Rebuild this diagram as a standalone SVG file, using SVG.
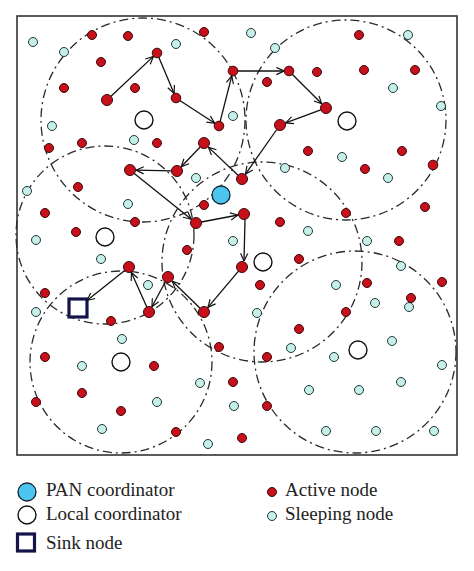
<svg xmlns="http://www.w3.org/2000/svg" width="474" height="571" viewBox="0 0 474 571">
<style>
.frame{fill:#fff;stroke:#333;stroke-width:1.6}
.rng{fill:none;stroke:#2a2a2a;stroke-width:1.3;stroke-dasharray:9 4 2 4}
.act{fill:#c8101c;stroke:#3a0a0a;stroke-width:1}
.slp{fill:#c6efe9;stroke:#1f3a38;stroke-width:1}
.lc{fill:#fff;stroke:#111;stroke-width:1.4}
.pan{fill:#4cc6ef;stroke:#123;stroke-width:1.3}
.sink{fill:#fff;stroke:#14144a;stroke-width:3.2}
.lnk line{stroke:#111;stroke-width:1.3;marker-end:url(#ah)}
.lg{font-family:"Liberation Serif","Times New Roman",serif;font-size:19px;fill:#222}
</style>
<defs>
<marker id="ah" viewBox="0 0 10 10" markerUnits="userSpaceOnUse" markerWidth="9" markerHeight="9" refX="9.5" refY="5" orient="auto">
<path d="M1,1 L9.5,5 L1,9" fill="none" stroke="#111" stroke-width="1.3"/>
</marker>
</defs>
<rect class="frame" x="17" y="16" width="440" height="439"/>
<g id="ranges">
<circle class="rng" cx="143" cy="120" r="102"/>
<circle class="rng" cx="346" cy="120" r="100"/>
<circle class="rng" cx="105" cy="235" r="89"/>
<circle class="rng" cx="262" cy="262" r="100"/>
<circle class="rng" cx="121" cy="362" r="91"/>
<circle class="rng" cx="355" cy="352" r="101"/>
</g>
<g id="sleeping">
<g id="s1"><circle class="slp" cx="33" cy="42" r="4.5"/></g>
<g id="s2"><circle class="slp" cx="64" cy="52" r="4.5"/></g>
<g id="s3"><circle class="slp" cx="176" cy="44" r="4.5"/></g>
<g id="s4"><circle class="slp" cx="251" cy="33" r="4.5"/></g>
<g id="s5"><circle class="slp" cx="275" cy="48" r="4.5"/></g>
<g id="s6"><circle class="slp" cx="408" cy="35" r="4.5"/></g>
<g id="s7"><circle class="slp" cx="393" cy="88" r="4.5"/></g>
<g id="s8"><circle class="slp" cx="441" cy="106" r="4.5"/></g>
<g id="s9"><circle class="slp" cx="233" cy="116" r="4.5"/></g>
<g id="s10"><circle class="slp" cx="52" cy="126" r="4.5"/></g>
<g id="s11"><circle class="slp" cx="134" cy="140" r="4.5"/></g>
<g id="s12"><circle class="slp" cx="342" cy="157" r="4.5"/></g>
<g id="s13"><circle class="slp" cx="388" cy="178" r="4.5"/></g>
<g id="s14"><circle class="slp" cx="285" cy="168" r="4.5"/></g>
<g id="s15"><circle class="slp" cx="196" cy="178" r="4.5"/></g>
<g id="s16"><circle class="slp" cx="27" cy="191" r="4.5"/></g>
<g id="s17"><circle class="slp" cx="128" cy="204" r="4.5"/></g>
<g id="s18"><circle class="slp" cx="36" cy="240" r="4.5"/></g>
<g id="s19"><circle class="slp" cx="233" cy="241" r="4.5"/></g>
<g id="s20"><circle class="slp" cx="101" cy="259" r="4.5"/></g>
<g id="s21"><circle class="slp" cx="148" cy="285" r="4.5"/></g>
<g id="s22"><circle class="slp" cx="36" cy="312" r="4.5"/></g>
<g id="s23"><circle class="slp" cx="308" cy="231" r="4.5"/></g>
<g id="s24"><circle class="slp" cx="367" cy="241" r="4.5"/></g>
<g id="s25"><circle class="slp" cx="401" cy="266" r="4.5"/></g>
<g id="s26"><circle class="slp" cx="336" cy="285" r="4.5"/></g>
<g id="s27"><circle class="slp" cx="375" cy="303" r="4.5"/></g>
<g id="s28"><circle class="slp" cx="409" cy="307" r="4.5"/></g>
<g id="s29"><circle class="slp" cx="257" cy="313" r="4.5"/></g>
<g id="s30"><circle class="slp" cx="122" cy="339" r="4.5"/></g>
<g id="s31"><circle class="slp" cx="392" cy="341" r="4.5"/></g>
<g id="s32"><circle class="slp" cx="291" cy="348" r="4.5"/></g>
<g id="s33"><circle class="slp" cx="334" cy="357" r="4.5"/></g>
<g id="s34"><circle class="slp" cx="442" cy="365" r="4.5"/></g>
<g id="s35"><circle class="slp" cx="82" cy="366" r="4.5"/></g>
<g id="s36"><circle class="slp" cx="200" cy="383" r="4.5"/></g>
<g id="s37"><circle class="slp" cx="401" cy="382" r="4.5"/></g>
<g id="s38"><circle class="slp" cx="309" cy="390" r="4.5"/></g>
<g id="s39"><circle class="slp" cx="359" cy="390" r="4.5"/></g>
<g id="s40"><circle class="slp" cx="157" cy="402" r="4.5"/></g>
<g id="s41"><circle class="slp" cx="234" cy="406" r="4.5"/></g>
<g id="s42"><circle class="slp" cx="102" cy="429" r="4.5"/></g>
<g id="s43"><circle class="slp" cx="208" cy="444" r="4.5"/></g>
<g id="s44"><circle class="slp" cx="326" cy="431" r="4.5"/></g>
<g id="s45"><circle class="slp" cx="376" cy="431" r="4.5"/></g>
<g id="s46"><circle class="slp" cx="434" cy="431" r="4.5"/></g>
</g>
<g id="active">
<g id="a1"><circle class="act" cx="92" cy="35" r="4.5"/></g>
<g id="a2"><circle class="act" cx="128" cy="36" r="4.5"/></g>
<g id="a3"><circle class="act" cx="204" cy="32" r="4.5"/></g>
<g id="a4"><circle class="act" cx="101" cy="62" r="4.5"/></g>
<g id="a5"><circle class="act" cx="64" cy="88" r="4.5"/></g>
<g id="a6"><circle class="act" cx="135" cy="88" r="4.5"/></g>
<g id="a7"><circle class="act" cx="359" cy="35" r="4.5"/></g>
<g id="a8"><circle class="act" cx="267" cy="82" r="4.5"/></g>
<g id="a9"><circle class="act" cx="317" cy="72" r="4.5"/></g>
<g id="a10"><circle class="act" cx="364" cy="70" r="4.5"/></g>
<g id="a11"><circle class="act" cx="415" cy="70" r="4.5"/></g>
<g id="a12"><circle class="act" cx="49" cy="148" r="4.5"/></g>
<g id="a13"><circle class="act" cx="82" cy="143" r="4.5"/></g>
<g id="a14"><circle class="act" cx="157" cy="143" r="4.5"/></g>
<g id="a15"><circle class="act" cx="308" cy="151" r="4.5"/></g>
<g id="a16"><circle class="act" cx="402" cy="151" r="4.5"/></g>
<g id="a17"><circle class="act" cx="433" cy="165" r="4.8"/></g>
<g id="a18"><circle class="act" cx="365" cy="169" r="4.5"/></g>
<g id="a19"><circle class="act" cx="78" cy="187" r="4.5"/></g>
<g id="a20"><circle class="act" cx="204" cy="205" r="4.5"/></g>
<g id="a21"><circle class="act" cx="45" cy="213" r="4.5"/></g>
<g id="a22"><circle class="act" cx="135" cy="222" r="4.5"/></g>
<g id="a23"><circle class="act" cx="280" cy="222" r="4.5"/></g>
<g id="a24"><circle class="act" cx="346" cy="213" r="4.5"/></g>
<g id="a25"><circle class="act" cx="425" cy="207" r="4.5"/></g>
<g id="a26"><circle class="act" cx="76" cy="232" r="4.5"/></g>
<g id="a27"><circle class="act" cx="187" cy="250" r="4.5"/></g>
<g id="a28"><circle class="act" cx="399" cy="241" r="4.5"/></g>
<g id="a29"><circle class="act" cx="45" cy="293" r="4.5"/></g>
<g id="a30"><circle class="act" cx="111" cy="321" r="4.5"/></g>
<g id="a31"><circle class="act" cx="299" cy="259" r="4.5"/></g>
<g id="a32"><circle class="act" cx="260" cy="285" r="4.5"/></g>
<g id="a33"><circle class="act" cx="367" cy="283" r="4.5"/></g>
<g id="a34"><circle class="act" cx="442" cy="282" r="4.5"/></g>
<g id="a35"><circle class="act" cx="411" cy="298" r="4.5"/></g>
<g id="a36"><circle class="act" cx="346" cy="312" r="4.5"/></g>
<g id="a37"><circle class="act" cx="299" cy="329" r="4.5"/></g>
<g id="a38"><circle class="act" cx="219" cy="347" r="4.5"/></g>
<g id="a39"><circle class="act" cx="267" cy="357" r="4.5"/></g>
<g id="a40"><circle class="act" cx="45" cy="357" r="4.5"/></g>
<g id="a41"><circle class="act" cx="154" cy="366" r="4.5"/></g>
<g id="a42"><circle class="act" cx="233" cy="382" r="4.5"/></g>
<g id="a43"><circle class="act" cx="82" cy="393" r="4.5"/></g>
<g id="a44"><circle class="act" cx="36" cy="402" r="4.5"/></g>
<g id="a45"><circle class="act" cx="121" cy="411" r="4.5"/></g>
<g id="a46"><circle class="act" cx="267" cy="406" r="4.5"/></g>
<g id="a47"><circle class="act" cx="176" cy="432" r="4.5"/></g>
<g id="a48"><circle class="act" cx="242" cy="438" r="4.5"/></g>
</g>
<g id="path-nodes">
<g id="pA"><circle class="act" cx="107" cy="100" r="5.5"/></g>
<g id="pB"><circle class="act" cx="157" cy="53" r="4.8"/></g>
<g id="pC"><circle class="act" cx="176" cy="98" r="4.8"/></g>
<g id="pD"><circle class="act" cx="219" cy="126" r="4.8"/></g>
<g id="pE"><circle class="act" cx="233" cy="71" r="4.8"/></g>
<g id="pF"><circle class="act" cx="289" cy="71" r="4.8"/></g>
<g id="pG"><circle class="act" cx="326" cy="108" r="5.5"/></g>
<g id="pH"><circle class="act" cx="280" cy="125" r="5.5"/></g>
<g id="pI"><circle class="act" cx="242" cy="179" r="5.5"/></g>
<g id="pJ"><circle class="act" cx="204" cy="143" r="5.5"/></g>
<g id="pK"><circle class="act" cx="177" cy="171" r="5.5"/></g>
<g id="pL"><circle class="act" cx="130" cy="170" r="5.5"/></g>
<g id="pM"><circle class="act" cx="196" cy="223" r="5.5"/></g>
<g id="pN"><circle class="act" cx="244" cy="214" r="5.5"/></g>
<g id="pO"><circle class="act" cx="242" cy="267" r="5.5"/></g>
<g id="pP"><circle class="act" cx="204" cy="312" r="5.5"/></g>
<g id="pQ"><circle class="act" cx="168" cy="277" r="5.5"/></g>
<g id="pR"><circle class="act" cx="149" cy="312" r="5.5"/></g>
<g id="pS"><circle class="act" cx="129" cy="267" r="5.5"/></g>
</g>
<g id="local-coordinators">
<g id="lc1"><circle class="lc" cx="144" cy="120" r="9"/></g>
<g id="lc2"><circle class="lc" cx="347" cy="121" r="9"/></g>
<g id="lc3"><circle class="lc" cx="105" cy="237" r="9"/></g>
<g id="lc4"><circle class="lc" cx="263" cy="262" r="9"/></g>
<g id="lc5"><circle class="lc" cx="121" cy="362" r="9"/></g>
<g id="lc6"><circle class="lc" cx="358" cy="350" r="9"/></g>
</g>
<g id="pan"><circle class="pan" cx="221" cy="195" r="9"/></g>
<g id="sink"><rect class="sink" x="69" y="299" width="18" height="18"/></g>
<g id="connectors" class="lnk">
<line x1="111" y1="96.2" x2="153.4" y2="56.4"/>
<line x1="158.8" y1="57.2" x2="174.1" y2="93.4"/>
<line x1="179.8" y1="100.5" x2="214.8" y2="123.3"/>
<line x1="220.1" y1="121.6" x2="231.8" y2="75.8"/>
<line x1="237.5" y1="71" x2="284" y2="71"/>
<line x1="292.2" y1="74.2" x2="321.8" y2="103.8"/>
<line x1="320.8" y1="109.9" x2="285.6" y2="122.9"/>
<line x1="276.8" y1="129.5" x2="245.5" y2="174.1"/>
<line x1="238" y1="175.2" x2="208.4" y2="147.1"/>
<line x1="200.2" y1="147" x2="181.2" y2="166.7"/>
<line x1="171.5" y1="170.9" x2="136" y2="170.1"/>
<line x1="134.3" y1="173.4" x2="191.3" y2="219.2"/>
<line x1="201.4" y1="222" x2="238.1" y2="215"/>
<line x1="245" y1="219.5" x2="244" y2="261"/>
<line x1="238.5" y1="271.2" x2="207.9" y2="307.4"/>
<line x1="200.1" y1="308.2" x2="172.3" y2="281.2"/>
<line x1="165.4" y1="281.8" x2="151.9" y2="306.7"/>
<line x1="146.8" y1="307" x2="131.4" y2="272.5"/>
<line x1="124.7" y1="270.4" x2="87" y2="300.5"/>
</g>
<g id="legend">
<circle class="pan" cx="27" cy="492" r="9"/>
<text class="lg" x="46" y="496">PAN coordinator</text>
<circle class="lc" cx="27" cy="515" r="9"/>
<text class="lg" x="46" y="520">Local coordinator</text>
<rect class="sink" x="17.5" y="534" width="17" height="17"/>
<text class="lg" x="46" y="549">Sink node</text>
<circle class="act" cx="272" cy="492" r="4.5"/>
<text class="lg" x="285" y="496">Active node</text>
<circle class="slp" cx="272" cy="516" r="4.5"/>
<text class="lg" x="285" y="520">Sleeping node</text>
</g>
</svg>
